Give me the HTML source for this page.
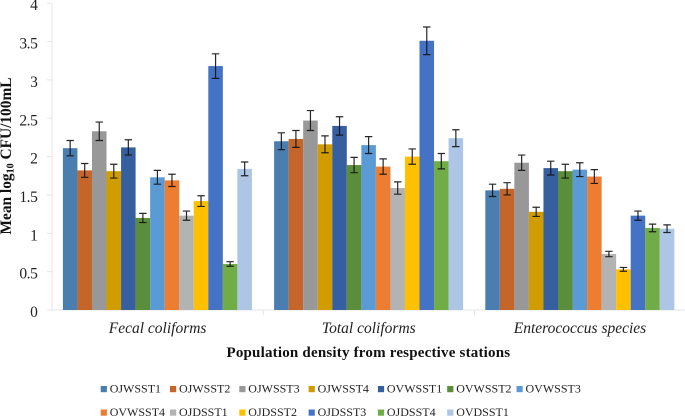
<!DOCTYPE html>
<html>
<head>
<meta charset="utf-8">
<style>
html,body{margin:0;padding:0;background:#fff;}
svg{display:block;font-family:"Liberation Serif",serif;}
</style>
</head>
<body>
<svg id="chart" width="685" height="416" viewBox="0 0 685 416" xmlns="http://www.w3.org/2000/svg">
<text transform="translate(11,156) rotate(-90)" text-anchor="middle" font-size="15.4" font-weight="bold" fill="#111">Mean log<tspan font-size="10" dy="2.5">10</tspan><tspan dy="-2.5"> CFU/100mL</tspan></text>
<text x="368.4" y="357" text-anchor="middle" font-size="15" font-weight="bold" letter-spacing="0.2" fill="#111">Population density from respective stations</text>
</svg>
<script>
var categories = ['Fecal coliforms', 'Total coliforms', 'Enterococcus species'];
var seriesNames = ['OJWSST1','OJWSST2','OJWSST3','OJWSST4','OVWSST1','OVWSST2','OVWSST3','OVWSST4','OJDSST1','OJDSST2','OJDSST3','OJDSST4','OVDSST1'];
var fecalValues = [2.11,1.82,2.33,1.81,2.12,1.20,1.73,1.69,1.23,1.42,3.18,0.60,1.84];
var totalValues = [2.20,2.23,2.47,2.16,2.40,1.89,2.15,1.87,1.59,2.00,3.51,1.94,2.24];
var enteroValues = [1.56,1.58,1.92,1.28,1.85,1.81,1.83,1.74,0.73,0.53,1.23,1.07,1.06];
var fecalErrors = [0.10,0.09,0.12,0.09,0.10,0.06,0.09,0.08,0.06,0.07,0.16,0.03,0.09];
var totalErrors = [0.11,0.11,0.13,0.11,0.12,0.10,0.11,0.10,0.08,0.10,0.18,0.10,0.11];
var enteroErrors = [0.08,0.08,0.10,0.06,0.09,0.09,0.09,0.09,0.035,0.025,0.06,0.05,0.05];
var yTickLabels = ['0','0.5','1','1.5','2','2.5','3','3.5','4'];
var seriesColors = ['#4a7eb0','#c4652a','#989898','#d09c00','#365f9f','#5b8e3a','#5b9bd5','#ed7d31','#b3b3b3','#ffc000','#4472c4','#70ad47','#adc6e6'];

var svg = document.getElementById('chart');
var NS = 'http://www.w3.org/2000/svg';
var plotLeft = 52, groupW = 211.2, y0 = 310, unit = 76.7, barW = 14.54, groupPad = 10.9;
var allValues = [fecalValues, totalValues, enteroValues];
var allErrors = [fecalErrors, totalErrors, enteroErrors];

function yScale(v) { return y0 - v * unit; }
function groupX(g) { return plotLeft + g * groupW; }
function barX(g, s) { return groupX(g) + groupPad + s * barW; }

function make(tag, attrs, parent) {
  var el = document.createElementNS(NS, tag);
  for (var k in attrs) { el.setAttribute(k, attrs[k]); }
  (parent || svg).appendChild(el);
  return el;
}

var yAxis = make('line', {x1: plotLeft, x2: plotLeft, y1: yScale(4), y2: y0, stroke: '#e4e4e4', 'stroke-width': 1});



var xAxis = make('line', {x1: plotLeft - 5, x2: 685, y1: y0, y2: y0, stroke: '#e4e4e4', 'stroke-width': 1});



yTickLabels.forEach(function (label) {
  var v = parseFloat(label);
  var tick = make('line', {x1: plotLeft - 5, x2: plotLeft, y1: yScale(v), y2: yScale(v), stroke: '#e4e4e4', 'stroke-width': 1});
  
  
  var text = make('text', {x: 37.5, y: yScale(v) + 7, 'text-anchor': 'end', 'font-size': 15.5, 'letter-spacing': -0.4, fill: '#222'});
  
  
  text.textContent = label;
});

categories.forEach(function (cat, g) {
  var tick = make('line', {x1: groupX(g + 1), x2: groupX(g + 1), y1: y0, y2: y0 + 5, stroke: '#e4e4e4', 'stroke-width': 1});
  
  

  allValues[g].forEach(function (v, s) {
    var bar = make('rect', {x: barX(g, s), y: yScale(v), width: barW, height: y0 - yScale(v), fill: seriesColors[s]});
    
    
  });

  allValues[g].forEach(function (v, s) {
    var e = allErrors[g][s];
    var cx = barX(g, s) + barW / 2;
    var err = make('path', {
      d: 'M' + (cx - 3.7) + ' ' + yScale(v + e) + 'H' + (cx + 3.7) +
         'M' + cx + ' ' + yScale(v + e) + 'V' + yScale(v - e) +
         'M' + (cx - 3.7) + ' ' + yScale(v - e) + 'H' + (cx + 3.7),
      fill: 'none', stroke: '#111', 'stroke-width': 1.2, opacity: 0.9
    });
    
    
  });

  var label = make('text', {x: groupX(g) + groupW / 2, y: 333, 'text-anchor': 'middle', 'font-size': 15.5, 'font-style': 'italic', fill: '#222'});
  
  
  label.textContent = cat;
});

seriesNames.forEach(function (name, i) {
  var col = i < 7 ? i : i - 7;
  var rowY = i < 7 ? 389 : 412.5;
  var lx = 100.7 + col * 69.3;
  var group = make('g', {});
  
  
  var swatch = make('rect', {x: lx, y: rowY - 3, width: 6.2, height: 6.2, fill: seriesColors[i]}, group);
  
  
  var text = make('text', {x: lx + 9, y: rowY + 3.6, 'font-size': 12, fill: '#222'}, group);
  
  
  text.textContent = name;
});
</script>
</body>
</html>
